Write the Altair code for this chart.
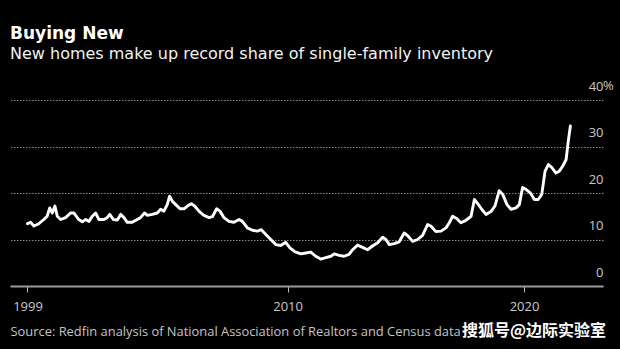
import altair as alt
import pandas as pd

# ---- data ----
years = [
    1999.00, 1999.13, 1999.27, 1999.48, 1999.69, 1999.83, 1999.94, 2000.05, 2000.16, 2000.26,
    2000.40, 2000.61, 2000.82, 2000.96, 2001.17, 2001.32, 2001.46, 2001.60, 2001.74, 2001.88,
    2002.02, 2002.23, 2002.37, 2002.48, 2002.63, 2002.80, 2002.94, 2003.08, 2003.22, 2003.43,
    2003.64, 2003.78, 2003.95, 2004.07, 2004.28, 2004.49, 2004.63, 2004.77, 2004.91, 2005.01,
    2005.13, 2005.27, 2005.45, 2005.62, 2005.76, 2005.93, 2006.07, 2006.25, 2006.46, 2006.68,
    2006.82, 2007.00, 2007.14, 2007.31, 2007.52, 2007.73, 2007.95, 2008.09, 2008.30, 2008.51,
    2008.72, 2008.89, 2009.08, 2009.29, 2009.50, 2009.71, 2009.92, 2010.10, 2010.30, 2010.56,
    2010.77, 2010.98, 2011.19, 2011.40, 2011.62, 2011.83, 2011.97, 2012.18, 2012.39, 2012.60,
    2012.75, 2012.96, 2013.17, 2013.38, 2013.59, 2013.81, 2014.02, 2014.16, 2014.30, 2014.51,
    2014.72, 2014.93, 2015.10, 2015.29, 2015.50, 2015.71, 2015.92, 2016.06, 2016.27, 2016.49,
    2016.70, 2016.84, 2016.98, 2017.15, 2017.33, 2017.54, 2017.76, 2017.90, 2018.04, 2018.21,
    2018.39, 2018.60, 2018.77, 2018.95, 2019.10, 2019.28, 2019.45, 2019.66, 2019.80, 2019.94,
    2020.08, 2020.27, 2020.44, 2020.60, 2020.75, 2020.89, 2021.03, 2021.17, 2021.35, 2021.49,
    2021.64, 2021.78, 2021.87, 2021.96,
]
share = [
    13.4, 13.7, 12.9, 13.4, 14.3, 15.0, 16.8, 15.7, 17.2, 15.0,
    14.3, 14.7, 15.7, 15.7, 14.3, 13.8, 14.3, 13.9, 15.0, 15.7,
    14.3, 14.3, 14.7, 15.4, 14.3, 14.2, 15.4, 14.7, 13.7, 13.7,
    14.3, 14.7, 15.7, 15.2, 15.4, 15.7, 16.5, 16.1, 17.5, 19.3,
    18.2, 17.5, 16.6, 16.6, 17.2, 17.7, 17.2, 16.1, 15.2, 14.7,
    14.9, 16.6, 16.1, 14.7, 13.9, 13.7, 14.3, 13.9, 12.5, 12.0,
    11.8, 12.1, 11.1, 10.0, 8.9, 8.7, 9.4, 8.2, 7.4, 6.9,
    7.1, 7.3, 6.4, 5.8, 6.1, 6.4, 6.9, 6.6, 6.4, 6.8,
    7.8, 8.8, 8.3, 7.8, 8.6, 9.3, 10.5, 10.0, 8.9, 9.1,
    9.5, 11.4, 10.7, 9.6, 10.0, 10.9, 13.2, 12.9, 11.7, 11.8,
    12.5, 13.6, 15.0, 14.5, 13.6, 14.1, 15.0, 18.6, 17.7, 16.5,
    15.4, 16.0, 17.2, 20.5, 19.7, 17.5, 16.5, 16.8, 17.5, 21.2,
    20.8, 20.0, 18.6, 18.6, 19.7, 24.7, 26.1, 25.5, 24.3, 24.7,
    25.8, 27.2, 31.1, 34.4,
]
x_tick_years = [1999, 2010, 2020]
y_tick_values = [0, 10, 20, 30, 40]
pct_label = ["%"]
pct_value = [40]

TITLE = "Buying New"
SUBTITLE = "New homes make up record share of single-family inventory"
SOURCE = "Source: Redfin analysis of National Association of Realtors and Census data"
WATERMARK = ["搜狐号@边际实验室"]

FONT = "Open Sans"
HEAD_FONT = "DejaVu Sans"

df = pd.DataFrame({"year": years, "share": share})
pct_df = pd.DataFrame({"share": pct_value, "t": pct_label})
wm_df = pd.DataFrame({"t": WATERMARK})

x_scale = alt.Scale(domain=[1998.26, 2023.34], nice=False, zero=False)
y_scale = alt.Scale(domain=[0, 40], nice=False, zero=True)

y_axis = alt.Axis(
    orient="right",
    values=y_tick_values,
    grid=True,
    gridColor="#8a8a8a",
    gridDash=[1.5, 1.5],
    gridWidth=1,
    domain=False,
    ticks=False,
    labelAlign="right",
    labelBaseline="middle",
    labelPadding=0,
    labelOffset=-14,
    labelColor="#c8c8c8",
    labelFont=FONT,
    labelFontSize=13,
    labelOverlap=False,
    title=None,
)

line = alt.Chart(df).mark_line(
    color="white", strokeWidth=2.9, strokeJoin="round", strokeCap="round"
).encode(
    x=alt.X(
        "year:Q",
        scale=x_scale,
        axis=alt.Axis(
            values=x_tick_years,
            format="d",
            grid=False,
            domainColor="#9a9a9a",
            domainWidth=2,
            tickColor="#bdbdbd",
            tickSize=6,
            tickWidth=1,
            labelColor="#c8c8c8",
            labelFont=FONT,
            labelFontSize=13,
            labelPadding=8,
            labelFlush=False,
            title=SOURCE,
            titleColor="#c4c4c4",
            titleFont=FONT,
            titleFontSize=12.9,
            titleFontWeight="normal",
            titleAnchor="start",
            titleAlign="left",
            titleBaseline="alphabetic",
            titleX=0,
            titleY=49,
        ),
    ),
    y=alt.Y("share:Q", scale=y_scale, axis=y_axis),
)

pct = alt.Chart(pct_df).mark_text(
    align="left", baseline="middle", dy=-14, color="#c8c8c8", font=FONT, fontSize=13
).encode(
    y=alt.Y("share:Q", scale=y_scale, axis=y_axis),
    x=alt.value(593),
    text="t:N",
)

wm = alt.Chart(wm_df).mark_text(
    align="left", baseline="middle", color="white", font="Noto Sans CJK SC",
    fontSize=16, fontWeight="bold"
).encode(
    x=alt.value(452),
    y=alt.value(231),
    text="t:N",
)

chart = alt.layer(line, pct, wm).properties(
    width=593,
    height=186,
    padding={"left": 10, "top": 100, "right": 17, "bottom": 63},
    autosize=alt.AutoSizeParams(type="none"),
    background="black",
    title=alt.TitleParams(
        text=TITLE,
        subtitle=SUBTITLE,
        anchor="start",
        frame="group",
        color="white",
        font=HEAD_FONT,
        fontSize=17,
        fontWeight="bold",
        subtitleColor="#f2f2f2",
        subtitleFont=HEAD_FONT,
        subtitleFontSize=16,
        subtitlePadding=3,
        offset=17,
    ),
).configure_view(stroke=None)

chart.save("out.html", embed_options={"renderer": "svg", "actions": False})
